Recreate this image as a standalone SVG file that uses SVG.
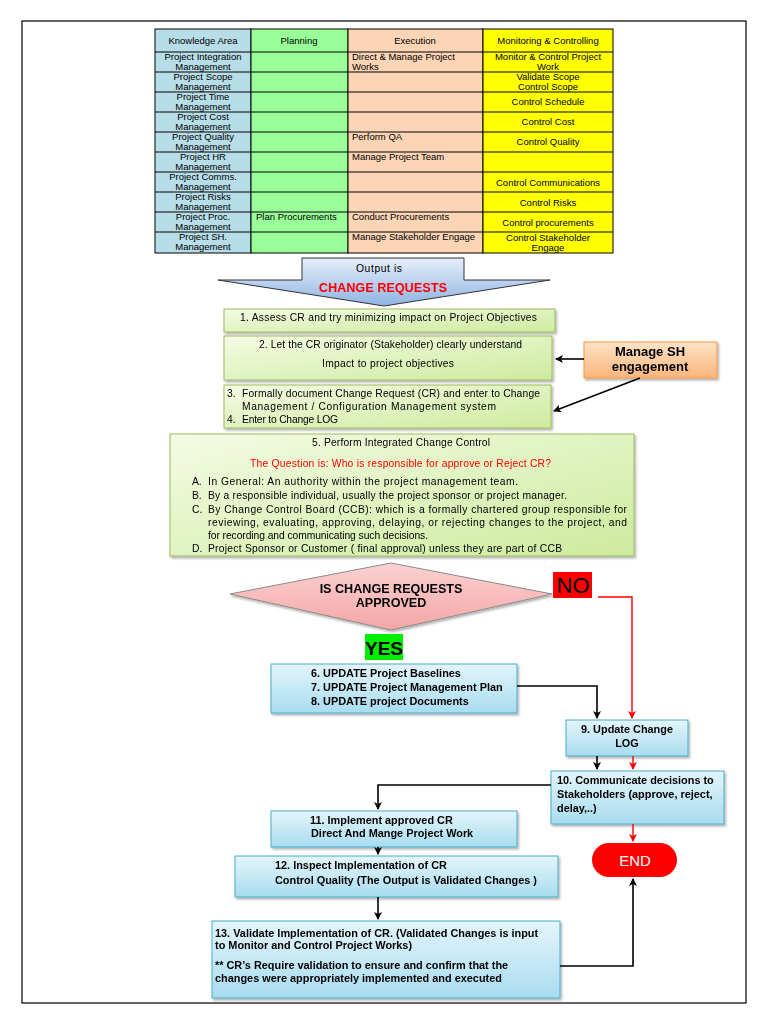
<svg xmlns="http://www.w3.org/2000/svg" width="768" height="1024" viewBox="0 0 768 1024">
<style>
text{font-family:"Liberation Sans",Arial,sans-serif;fill:#000}
.t{font-size:9.5px}
.c{text-anchor:middle}
.b{font-weight:bold}
.s{font-size:10.3px}
.bx{font-size:10.9px;font-weight:bold}
.cell{stroke:#000;stroke-width:1}
.ka{fill:#b7dde8}.pl{fill:#99ff99}.ex{fill:#fbd5b5}.mc{fill:#ffff00}
.gbox{fill:url(#gGreen);stroke:#9bbb59;stroke-width:1}
.bbox{fill:url(#gBlue);stroke:#4bacc6;stroke-width:1}
.con{fill:none;stroke:#000;stroke-width:1.6}
.red{fill:none;stroke:#ff0000;stroke-width:1.4}
</style>
<defs>
<linearGradient id="gGreen" x1="0" y1="0" x2="1" y2="1"><stop offset="0" stop-color="#f4fbe4"/><stop offset="1" stop-color="#cdeb9e"/></linearGradient>
<linearGradient id="gBlue" x1="0" y1="0" x2="0" y2="1"><stop offset="0" stop-color="#e4f5fb"/><stop offset="1" stop-color="#a8dcf0"/></linearGradient>
<linearGradient id="gOrange" x1="0" y1="0" x2="0" y2="1"><stop offset="0" stop-color="#fde3c6"/><stop offset="1" stop-color="#f9b57a"/></linearGradient>
<linearGradient id="gArrow" x1="0" y1="0" x2="0" y2="1"><stop offset="0" stop-color="#e6effa"/><stop offset="1" stop-color="#8fb4e3"/></linearGradient>
<linearGradient id="gPink" x1="0" y1="0" x2="0" y2="1"><stop offset="0" stop-color="#fcd2d2"/><stop offset="1" stop-color="#f4a6a6"/></linearGradient>
<filter id="sh" x="-5%" y="-10%" width="110%" height="130%"><feDropShadow dx="1.5" dy="2" stdDeviation="1.2" flood-color="#000" flood-opacity="0.3"/></filter>
<marker id="ab" markerWidth="8" markerHeight="8" refX="7" refY="4" orient="auto" markerUnits="userSpaceOnUse"><path d="M0,0 L8,4 L0,8 L2,4 z" fill="#000"/></marker>
<marker id="ar" markerWidth="8" markerHeight="8" refX="7" refY="4" orient="auto" markerUnits="userSpaceOnUse"><path d="M0,0 L8,4 L0,8 L2,4 z" fill="#ff0000"/></marker>
</defs>
<rect width="768" height="1024" fill="#fff"/>
<rect x="22" y="21" width="724" height="982" fill="none" stroke="#000" stroke-width="1.2"/>

<g id="table">
<rect class="cell ka" x="155" y="29" width="96" height="224"/>
<rect class="cell pl" x="251" y="29" width="97" height="224"/>
<rect class="cell ex" x="348" y="29" width="135" height="224"/>
<rect class="cell mc" x="483" y="29" width="130" height="224"/>
<g stroke="#000" stroke-width="1">
<line x1="155" y1="52" x2="613" y2="52"/>
<line x1="155" y1="72" x2="613" y2="72"/>
<line x1="155" y1="92" x2="613" y2="92"/>
<line x1="155" y1="112" x2="613" y2="112"/>
<line x1="155" y1="132" x2="613" y2="132"/>
<line x1="155" y1="152" x2="613" y2="152"/>
<line x1="155" y1="172" x2="613" y2="172"/>
<line x1="155" y1="192" x2="613" y2="192"/>
<line x1="155" y1="212" x2="613" y2="212"/>
<line x1="155" y1="232" x2="613" y2="232"/>
</g>
<text class="t c" x="203" y="44">Knowledge Area</text>
<text class="t c" x="299" y="44">Planning</text>
<text class="t c" x="415" y="44">Execution</text>
<text class="t c" x="548" y="44">Monitoring &amp; Controlling</text>
<text class="t c" x="203" y="60">Project Integration</text><text class="t c" x="203" y="70">Management</text>
<text class="t c" x="203" y="80">Project Scope</text><text class="t c" x="203" y="90">Management</text>
<text class="t c" x="203" y="100">Project Time</text><text class="t c" x="203" y="110">Management</text>
<text class="t c" x="203" y="120">Project Cost</text><text class="t c" x="203" y="130">Management</text>
<text class="t c" x="203" y="140">Project Quality</text><text class="t c" x="203" y="150">Management</text>
<text class="t c" x="203" y="160">Project HR</text><text class="t c" x="203" y="170">Management</text>
<text class="t c" x="203" y="180">Project Comms.</text><text class="t c" x="203" y="190">Management</text>
<text class="t c" x="203" y="200">Project Risks</text><text class="t c" x="203" y="210">Management</text>
<text class="t c" x="203" y="220">Project Proc.</text><text class="t c" x="203" y="230">Management</text>
<text class="t c" x="203" y="240">Project SH.</text><text class="t c" x="203" y="250">Management</text>
<text class="t" x="256" y="220">Plan Procurements</text>
<text class="t" x="352" y="60">Direct &amp; Manage Project</text><text class="t" x="352" y="70">Works</text>
<text class="t" x="352" y="140">Perform QA</text>
<text class="t" x="352" y="160">Manage Project Team</text>
<text class="t" x="352" y="220">Conduct Procurements</text>
<text class="t" x="352" y="240">Manage Stakeholder Engage</text>
<text class="t c" x="548" y="60">Monitor &amp; Control Project</text><text class="t c" x="548" y="70">Work</text>
<text class="t c" x="548" y="80">Validate Scope</text><text class="t c" x="548" y="90">Control Scope</text>
<text class="t c" x="548" y="105">Control Schedule</text>
<text class="t c" x="548" y="125">Control Cost</text>
<text class="t c" x="548" y="145">Control Quality</text>
<text class="t c" x="548" y="186">Control Communications</text>
<text class="t c" x="548" y="206">Control Risks</text>
<text class="t c" x="548" y="226">Control procurements</text>
<text class="t c" x="548" y="241">Control Stakeholder</text><text class="t c" x="548" y="251">Engage</text>
</g>

<g id="output-arrow">
<path d="M302,258 L464,258 L464,280 L550,280 L384,306 L218,280 L302,280 Z" fill="url(#gArrow)" stroke="#333" stroke-width="1"/>
<text class="s" x="356" y="272" textLength="46">Output is</text>
<text class="b" x="319" y="292" textLength="128" style="font-size:12.5px;fill:#ff0000">CHANGE REQUESTS</text>
</g>

<g id="box1" filter="url(#sh)">
<rect class="gbox" x="224" y="309" width="331" height="23"/>
<text class="s" x="240" y="321" textLength="297">1. Assess CR and try minimizing impact on Project Objectives</text>
</g>
<g id="box2" filter="url(#sh)">
<rect class="gbox" x="224" y="336" width="328" height="44"/>
<text class="s" x="259" y="348" textLength="263">2. Let the CR originator (Stakeholder) clearly understand</text>
<text class="s" x="322" y="367" textLength="132">Impact to project objectives</text>
</g>
<g id="box3" filter="url(#sh)">
<rect class="gbox" x="224" y="385" width="327" height="43"/>
<text class="s" x="227" y="397">3.</text><text class="s" x="242" y="397" textLength="298">Formally document Change Request (CR) and enter to Change</text>
<text class="s" x="242" y="410" textLength="254">Management / Configuration Management system</text>
<text class="s" x="227" y="423">4.</text><text class="s" x="242" y="423" textLength="96">Enter to Change LOG</text>
</g>
<g id="manage-sh" filter="url(#sh)">
<rect x="584" y="342" width="133" height="36" fill="url(#gOrange)" stroke="#f79646" stroke-width="1"/>
<text class="c b" x="650" y="356" style="font-size:13px">Manage SH</text>
<text class="c b" x="650" y="371" style="font-size:13px">engagement</text>
</g>
<g id="box5" filter="url(#sh)">
<rect class="gbox" x="170" y="434" width="464" height="122"/>
<text class="s" x="312" y="446" textLength="178">5. Perform Integrated Change Control</text>
<text class="s" x="250" y="467" textLength="301" style="fill:#ff0000">The Question is: Who is responsible for approve or Reject CR?</text>
<text class="s" x="192" y="485">A.</text><text class="s" x="208" y="485" textLength="310">In General: An authority within the project management team.</text>
<text class="s" x="192" y="499">B.</text><text class="s" x="208" y="499" textLength="359">By a responsible individual, usually the project sponsor or project manager.</text>
<text class="s" x="192" y="513">C.</text><text class="s" x="208" y="513" textLength="419">By Change Control Board (CCB): which is a formally chartered group responsible for</text>
<text class="s" x="208" y="526" textLength="419">reviewing, evaluating, approving, delaying, or rejecting changes to the project, and</text>
<text class="s" x="208" y="539" textLength="220">for recording and communicating such decisions.</text>
<text class="s" x="192" y="552">D.</text><text class="s" x="208" y="552" textLength="354">Project Sponsor or Customer ( final approval) unless they are part of CCB</text>
</g>
<g id="decision" filter="url(#sh)">
<path d="M391,563 L552,594 L391,630 L230,594 Z" fill="url(#gPink)" stroke="#8a8a8a" stroke-width="1"/>
<text class="c b" x="391" y="593" style="font-size:12.6px">IS CHANGE REQUESTS</text>
<text class="c b" x="391" y="607" style="font-size:12.6px">APPROVED</text>
</g>
<g id="no-label">
<rect x="553" y="572" width="39" height="26" fill="#ff0000"/>
<text class="c" x="573" y="593" style="font-size:22px">NO</text>
</g>
<g id="yes-label">
<rect x="365" y="634" width="38" height="26" fill="#00ee00"/>
<text class="c b" x="384" y="655" style="font-size:19px">YES</text>
</g>
<g id="box6" filter="url(#sh)">
<rect class="bbox" x="271" y="664" width="246" height="49"/>
<text class="bx" x="311" y="677">6.  UPDATE Project Baselines</text>
<text class="bx" x="311" y="691">7. UPDATE Project Management Plan</text>
<text class="bx" x="311" y="705">8. UPDATE project Documents</text>
</g>
<g id="box9" filter="url(#sh)">
<rect class="bbox" x="566" y="720" width="122" height="36"/>
<text class="bx c" x="627" y="733">9. Update Change</text>
<text class="bx c" x="627" y="747">LOG</text>
</g>
<g id="box10" filter="url(#sh)">
<rect class="bbox" x="551" y="771" width="173" height="53"/>
<text class="bx" x="557" y="784">10. Communicate decisions to</text>
<text class="bx" x="557" y="798">Stakeholders (approve, reject,</text>
<text class="bx" x="557" y="812">delay,..)</text>
</g>
<g id="end">
<rect x="592" y="843" width="85" height="34" rx="17" fill="#ff0000"/>
<text class="c" x="635" y="866" style="font-size:15px;fill:#fff">END</text>
</g>
<g id="box11" filter="url(#sh)">
<rect class="bbox" x="271" y="811" width="246" height="36"/>
<text class="bx" x="310" y="824">11. Implement approved CR</text>
<text class="bx" x="311" y="837">Direct And Mange Project Work</text>
</g>
<g id="box12" filter="url(#sh)">
<rect class="bbox" x="235" y="856" width="323" height="41"/>
<text class="bx" x="275" y="869">12. Inspect Implementation of CR</text>
<text class="bx" x="275" y="884">Control Quality (The Output is Validated Changes )</text>
</g>
<g id="box13" filter="url(#sh)">
<rect class="bbox" x="212" y="921" width="348" height="77"/>
<text class="bx" x="215" y="937">13. Validate Implementation of CR. (Validated Changes is input</text>
<text class="bx" x="215" y="949">to Monitor and Control Project Works)</text>
<text class="bx" x="215" y="969">** CR’s Require validation to ensure and confirm that the</text>
<text class="bx" x="215" y="982">changes were appropriately implemented and executed</text>
</g>

<g id="connectors">
<line class="con" x1="584" y1="359" x2="556" y2="359" marker-end="url(#ab)"/>
<line class="con" x1="640" y1="378" x2="554" y2="411" marker-end="url(#ab)"/>
<polyline class="red" points="598,597 632,597 632,718" marker-end="url(#ar)"/>
<polyline class="con" points="517,686 597,686 597,718" marker-end="url(#ab)"/>
<line class="con" x1="597" y1="756" x2="597" y2="769" marker-end="url(#ab)"/>
<line class="red" x1="633" y1="756" x2="633" y2="769" marker-end="url(#ar)"/>
<polyline class="con" points="551,785 378,785 378,809" marker-end="url(#ab)"/>
<line class="red" x1="633" y1="824" x2="633" y2="841" marker-end="url(#ar)"/>
<line class="con" x1="378" y1="847" x2="378" y2="854" marker-end="url(#ab)"/>
<line class="con" x1="378" y1="897" x2="378" y2="919" marker-end="url(#ab)"/>
<polyline class="con" points="560,966 633,966 633,879" marker-end="url(#ab)"/>
</g>
</svg>
